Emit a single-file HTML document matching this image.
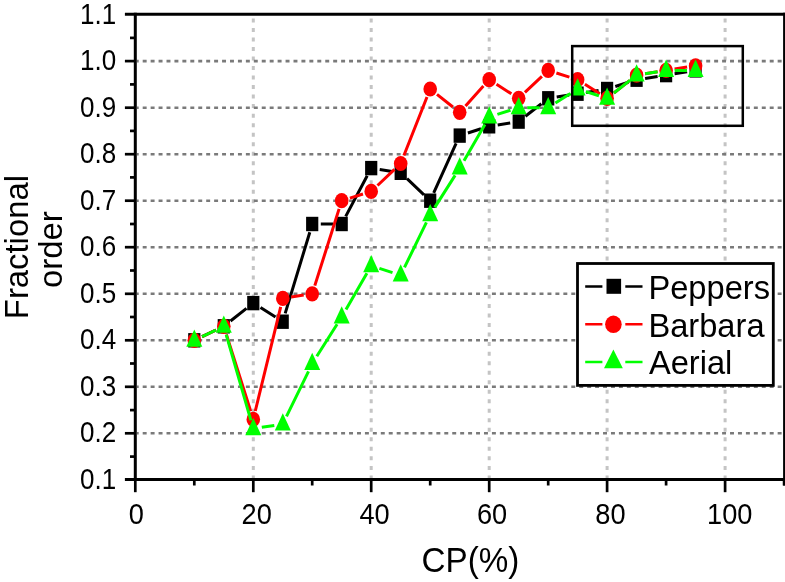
<!DOCTYPE html><html><head><meta charset="utf-8"><title>Fractional order vs CP</title>
<style>html,body{margin:0;padding:0;background:#fff;}svg{display:block;}text{font-family:"Liberation Sans",Arial,sans-serif;fill:#000;}</style></head><body>
<svg width="785" height="582" viewBox="0 0 785 582">
<rect width="785" height="582" fill="#fff"/>
<g stroke="#c4c4c4" stroke-width="3" stroke-dasharray="4 5.52" stroke-dashoffset="6.58" fill="none">
<path d="M253.3 15.5V478"/>
<path d="M371.2 15.5V478"/>
<path d="M489.2 15.5V478"/>
<path d="M607.1 15.5V478"/>
<path d="M725.1 15.5V478"/>
</g>
<g stroke="#7a7a7a" stroke-width="2.6" stroke-dasharray="3.95 3.987" stroke-dashoffset="2.24" fill="none">
<path d="M137 433.3H783"/>
<path d="M137 386.8H783"/>
<path d="M137 340.3H783"/>
<path d="M137 293.8H783"/>
<path d="M137 247.2H783"/>
<path d="M137 200.7H783"/>
<path d="M137 154.2H783"/>
<path d="M137 107.7H783"/>
<path d="M137 61.1H783"/>
</g>
<g stroke="#000" stroke-width="3" fill="none">
<path d="M135.3 12.8V481"/><path d="M124.9 479.55H785"/><path d="M124.9 14.3H785"/><path d="M784.6 12.8V485.5"/>
</g>
<g stroke="#000" stroke-width="2.7" fill="none">
<path d="M124.9 433.3H135.3"/>
<path d="M124.9 386.8H135.3"/>
<path d="M124.9 340.3H135.3"/>
<path d="M124.9 293.8H135.3"/>
<path d="M124.9 247.2H135.3"/>
<path d="M124.9 200.7H135.3"/>
<path d="M124.9 154.2H135.3"/>
<path d="M124.9 107.7H135.3"/>
<path d="M124.9 61.1H135.3"/>
<path d="M130 456.6H135.3"/>
<path d="M130 410.1H135.3"/>
<path d="M130 363.5H135.3"/>
<path d="M130 317.0H135.3"/>
<path d="M130 270.5H135.3"/>
<path d="M130 224.0H135.3"/>
<path d="M130 177.4H135.3"/>
<path d="M130 130.9H135.3"/>
<path d="M130 84.4H135.3"/>
<path d="M130 37.9H135.3"/>
<path d="M135.3 479.6V492.2"/>
<path d="M253.3 479.6V492.2"/>
<path d="M371.2 479.6V492.2"/>
<path d="M489.2 479.6V492.2"/>
<path d="M607.1 479.6V492.2"/>
<path d="M725.1 479.6V492.2"/>
<path d="M194.3 479.6V485.5"/>
<path d="M312.2 479.6V485.5"/>
<path d="M430.2 479.6V485.5"/>
<path d="M548.2 479.6V485.5"/>
<path d="M666.1 479.6V485.5"/>
<path d="M784.1 479.6V485.5"/>
</g>
<path d="M202.1 336.6L216.0 330.0M230.5 321.0L246.5 308.4M260.5 307.6L275.5 317.1M285.2 313.4L309.8 232.2M320.8 224.0L333.1 224.0M345.7 216.4L367.2 175.7M379.7 169.5L392.2 171.4M407.0 178.7L424.0 194.8M433.7 192.9L456.1 143.4M467.9 133.0L481.0 128.8M497.7 124.9L510.2 122.9M525.4 116.3L541.4 103.7M556.7 97.0L569.2 95.0M586.1 92.4L598.6 90.4M615.3 86.5L628.4 82.3M645.1 78.4L657.6 76.4M674.6 73.7L687.1 71.8" stroke="#000" stroke-width="3" fill="none"/>
<g fill="#000">
<rect x="188.2" y="333.1" width="12.2" height="14.4"/>
<rect x="217.7" y="319.1" width="12.2" height="14.4"/>
<rect x="247.2" y="295.9" width="12.2" height="14.4"/>
<rect x="276.6" y="314.5" width="12.2" height="14.4"/>
<rect x="306.1" y="216.8" width="12.2" height="14.4"/>
<rect x="335.6" y="216.8" width="12.2" height="14.4"/>
<rect x="365.1" y="160.9" width="12.2" height="14.4"/>
<rect x="394.6" y="165.6" width="12.2" height="14.4"/>
<rect x="424.1" y="193.5" width="12.2" height="14.4"/>
<rect x="453.6" y="128.4" width="12.2" height="14.4"/>
<rect x="483.1" y="119.1" width="12.2" height="14.4"/>
<rect x="512.6" y="114.4" width="12.2" height="14.4"/>
<rect x="542.1" y="91.1" width="12.2" height="14.4"/>
<rect x="571.5" y="86.5" width="12.2" height="14.4"/>
<rect x="601.0" y="81.8" width="12.2" height="14.4"/>
<rect x="630.5" y="72.5" width="12.2" height="14.4"/>
<rect x="660.0" y="67.9" width="12.2" height="14.4"/>
<rect x="689.5" y="63.2" width="12.2" height="14.4"/>
</g>
<path d="M202.1 336.6L216.0 330.0M226.4 334.5L250.7 411.2M255.3 411.0L280.7 306.8M291.2 297.1L303.7 295.1M314.8 285.6L339.1 208.9M349.9 198.1L363.0 194.0M377.5 185.5L394.5 169.4M403.9 155.5L427.0 97.0M437.0 94.4L452.9 107.0M465.5 105.9L483.4 86.1M496.5 84.3L511.4 93.8M524.9 92.4L541.9 76.3M556.4 73.0L569.4 77.1M584.9 84.3L599.9 93.8M613.9 93.0L629.9 80.4M645.1 73.7L657.6 71.8M674.6 69.1L687.1 67.1" stroke="#f00" stroke-width="3" fill="none"/>
<g fill="#f00">
<ellipse cx="194.3" cy="340.3" rx="6.8" ry="7.6"/>
<ellipse cx="223.8" cy="326.3" rx="6.8" ry="7.6"/>
<ellipse cx="253.3" cy="419.4" rx="6.8" ry="7.6"/>
<ellipse cx="282.8" cy="298.4" rx="6.8" ry="7.6"/>
<ellipse cx="312.2" cy="293.8" rx="6.8" ry="7.6"/>
<ellipse cx="341.7" cy="200.7" rx="6.8" ry="7.6"/>
<ellipse cx="371.2" cy="191.4" rx="6.8" ry="7.6"/>
<ellipse cx="400.7" cy="163.5" rx="6.8" ry="7.6"/>
<ellipse cx="430.2" cy="89.0" rx="6.8" ry="7.6"/>
<ellipse cx="459.7" cy="112.3" rx="6.8" ry="7.6"/>
<ellipse cx="489.2" cy="79.7" rx="6.8" ry="7.6"/>
<ellipse cx="518.7" cy="98.3" rx="6.8" ry="7.6"/>
<ellipse cx="548.2" cy="70.4" rx="6.8" ry="7.6"/>
<ellipse cx="577.6" cy="79.7" rx="6.8" ry="7.6"/>
<ellipse cx="607.1" cy="98.3" rx="6.8" ry="7.6"/>
<ellipse cx="636.6" cy="75.1" rx="6.8" ry="7.6"/>
<ellipse cx="666.1" cy="70.4" rx="6.8" ry="7.6"/>
<ellipse cx="695.6" cy="65.8" rx="6.8" ry="7.6"/>
</g>
<path d="M202.1 336.6L216.0 330.0M226.2 334.6L250.9 420.4M261.8 427.3L274.3 425.4M286.5 416.3L308.5 371.3M316.8 356.3L337.1 324.3M346.0 309.6L366.9 273.3M379.4 268.4L392.5 272.6M404.5 267.4L426.4 222.4M434.8 207.4L455.1 175.4M464.0 160.7L484.9 124.4M497.4 114.4L510.5 110.2M527.3 107.7L539.6 107.7M555.4 103.1L570.4 93.6M585.9 91.6L598.9 95.8M613.9 93.0L629.9 80.4M645.1 73.7L657.6 71.8M674.7 70.4L687.0 70.4" stroke="#0f0" stroke-width="3" fill="none"/>
<g fill="#0f0">
<path d="M194.3 329.5L202.3 346.8H186.3Z"/>
<path d="M223.8 315.5L231.8 332.8H215.8Z"/>
<path d="M253.3 417.9L261.3 435.2H245.3Z"/>
<path d="M282.8 413.2L290.8 430.5H274.8Z"/>
<path d="M312.2 352.7L320.2 370.0H304.2Z"/>
<path d="M341.7 306.2L349.7 323.5H333.7Z"/>
<path d="M371.2 255.0L379.2 272.3H363.2Z"/>
<path d="M400.7 264.3L408.7 281.6H392.7Z"/>
<path d="M430.2 203.9L438.2 221.2H422.2Z"/>
<path d="M459.7 157.3L467.7 174.6H451.7Z"/>
<path d="M489.2 106.2L497.2 123.5H481.2Z"/>
<path d="M518.7 96.9L526.7 114.2H510.7Z"/>
<path d="M548.2 96.9L556.2 114.2H540.2Z"/>
<path d="M577.6 78.2L585.6 95.5H569.6Z"/>
<path d="M607.1 87.5L615.1 104.8H599.1Z"/>
<path d="M636.6 64.3L644.6 81.6H628.6Z"/>
<path d="M666.1 59.6L674.1 76.9H658.1Z"/>
<path d="M695.6 59.6L703.6 76.9H687.6Z"/>
</g>
<rect x="572.2" y="46.1" width="170.6" height="79.7" fill="none" stroke="#000" stroke-width="2.5"/>
<rect x="577.5" y="263.5" width="195.8" height="121.9" fill="#fff" stroke="#000" stroke-width="2.8"/>
<g stroke-width="2.5" fill="none">
<path d="M585.2 286.5H602.4M625.3 286.5H642.5" stroke="#000"/>
<path d="M585.2 324.3H602.4M625.3 324.3H642.5" stroke="#f00"/>
<path d="M585.2 362H602.4M625.3 362H642.5" stroke="#0f0"/>
</g>
<rect x="606.5" y="278.8" width="14.6" height="15" fill="#000"/>
<ellipse cx="613.4" cy="324.3" rx="8.3" ry="8.7" fill="#f00"/>
<g fill="#0f0"><path d="M613.4 349.5L622.8 368.3H604.0Z"/></g>
<text transform="translate(648.4 298.6) scale(0.972 1)" font-size="33.6" text-anchor="start">Peppers</text>
<text transform="translate(648.4 336.5) scale(0.972 1)" font-size="33.6" text-anchor="start">Barbara</text>
<text transform="translate(648.9 373.8) scale(0.972 1)" font-size="33.6" text-anchor="start">Aerial</text>
<text transform="translate(116.2 488.8) scale(0.897 1)" font-size="29" text-anchor="end">0.1</text>
<text transform="translate(116.2 442.2) scale(0.897 1)" font-size="29" text-anchor="end">0.2</text>
<text transform="translate(116.2 395.7) scale(0.897 1)" font-size="29" text-anchor="end">0.3</text>
<text transform="translate(116.2 349.2) scale(0.897 1)" font-size="29" text-anchor="end">0.4</text>
<text transform="translate(116.2 302.7) scale(0.897 1)" font-size="29" text-anchor="end">0.5</text>
<text transform="translate(116.2 256.1) scale(0.897 1)" font-size="29" text-anchor="end">0.6</text>
<text transform="translate(116.2 209.6) scale(0.897 1)" font-size="29" text-anchor="end">0.7</text>
<text transform="translate(116.2 163.1) scale(0.897 1)" font-size="29" text-anchor="end">0.8</text>
<text transform="translate(116.2 116.6) scale(0.897 1)" font-size="29" text-anchor="end">0.9</text>
<text transform="translate(116.2 70.0) scale(0.897 1)" font-size="29" text-anchor="end">1.0</text>
<text transform="translate(116.2 23.5) scale(0.897 1)" font-size="29" text-anchor="end">1.1</text>
<text transform="translate(136.4 523.6) scale(0.938 1)" font-size="29" text-anchor="middle">0</text>
<text transform="translate(256.7 523.6) scale(0.938 1)" font-size="29" text-anchor="middle">20</text>
<text transform="translate(374.6 523.6) scale(0.938 1)" font-size="29" text-anchor="middle">40</text>
<text transform="translate(492.1 523.6) scale(0.938 1)" font-size="29" text-anchor="middle">60</text>
<text transform="translate(610.5 523.6) scale(0.938 1)" font-size="29" text-anchor="middle">80</text>
<text transform="translate(729.7 523.6) scale(0.938 1)" font-size="29" text-anchor="middle">100</text>
<text transform="translate(470.4 571.5) scale(0.96 1)" font-size="34.6" text-anchor="middle">CP(%)</text>
<text transform="translate(27.5 247.1) rotate(-90) scale(0.98 1)" font-size="33.5" text-anchor="middle">Fractional</text>
<text transform="translate(62.3 249.6) rotate(-90) scale(0.98 1)" font-size="33.5" text-anchor="middle">order</text>
</svg></body></html>
